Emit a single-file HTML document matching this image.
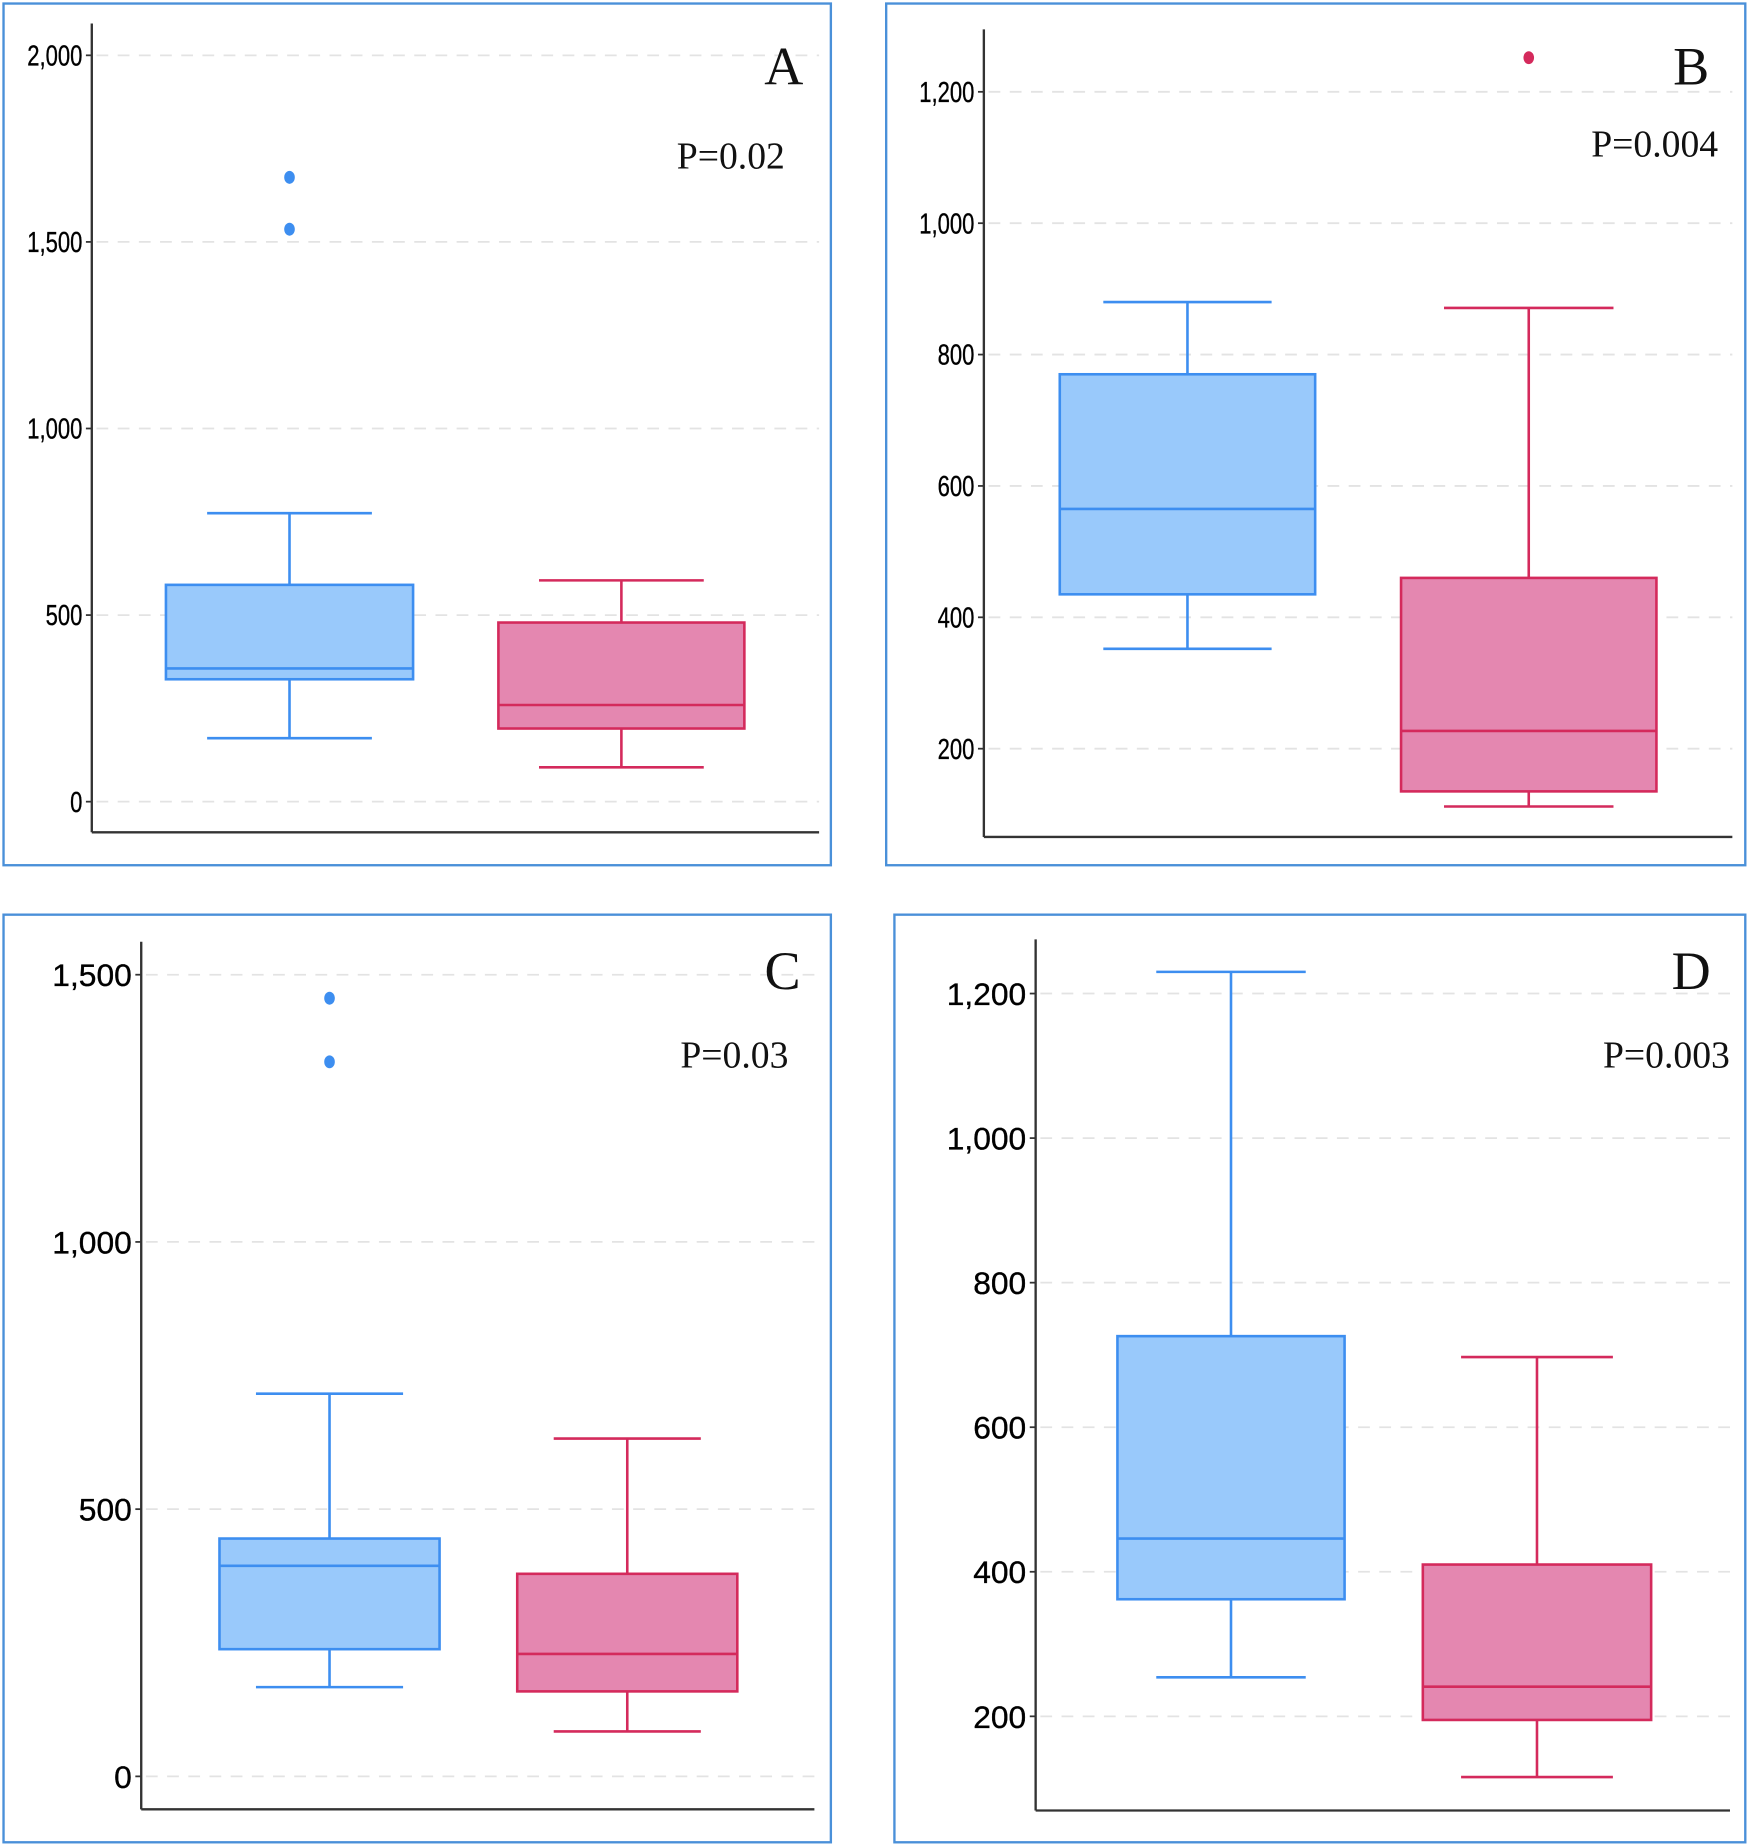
<!DOCTYPE html>
<html><head><meta charset="utf-8">
<style>
html,body{margin:0;padding:0;background:#fff;}
svg{display:block;}
.tick{font-family:"Liberation Sans",sans-serif;fill:#000;stroke:#000;stroke-width:0.3;}
.lbl{font-family:"Liberation Serif",serif;fill:#111;}
</style></head>
<body>
<svg id="fig" width="1750" height="1847" viewBox="0 0 1487 1569" preserveAspectRatio="none" xmlns="http://www.w3.org/2000/svg"></svg>
<script>
// Panel A
const aTicks = [0, 500, 1000, 1500, 2000];
const aTickLabels = ["0", "500", "1,000", "1,500", "2,000"];
const aGroups = ["group-1", "group-2"];
const aMin = [170, 92];
const aQ1 = [328, 196];
const aMedian = [357, 259];
const aQ3 = [581, 480];
const aMax = [773, 593];
const aOutliers = [[1673, 1534], []];
// Panel B
const bTicks = [200, 400, 600, 800, 1000, 1200];
const bTickLabels = ["200", "400", "600", "800", "1,000", "1,200"];
const bMin = [352, 112];
const bQ1 = [435, 135];
const bMedian = [565, 227];
const bQ3 = [770, 460];
const bMax = [880, 871];
const bOutliers = [[], [1252]];
// Panel C
const cTicks = [0, 500, 1000, 1500];
const cTickLabels = ["0", "500", "1,000", "1,500"];
const cMin = [167, 84];
const cQ1 = [238, 159];
const cMedian = [394, 229];
const cQ3 = [445, 379];
const cMax = [716, 632];
const cOutliers = [[1456, 1337], []];
// Panel D
const dTicks = [200, 400, 600, 800, 1000, 1200];
const dTickLabels = ["200", "400", "600", "800", "1,000", "1,200"];
const dMin = [254, 116];
const dQ1 = [362, 195];
const dMedian = [446, 241];
const dQ3 = [726, 410];
const dMax = [1230, 697];
const dOutliers = [[], []];

const NS = "http://www.w3.org/2000/svg";
const svg = document.getElementById("fig");
function mk(tag, attrs, parent){
  const e = document.createElementNS(NS, tag);
  for (const k in attrs) e.setAttribute(k, attrs[k]);
  (parent||svg).appendChild(e);
  return e;
}
const FILL = ["#99c9fb", "#e487b0"];
const STROKE = ["#3d8ef0", "#d42a5c"];

const panels = [
  {id:"a", letter:"A", p:"P=0.02", border:[3,3,703,732], ax:78, axTop:20, axBot:707, axRight:696,
   y0v:0, y0:681, y1v:2000, y1:47, cx:[246,528], bw:[210,209], cap:[140,140], fs:24, sx:0.78,
   letterX:666, letterY:72, pX:621, pY:143, pFs:32,
   ticks:aTicks, tl:aTickLabels, mn:aMin, q1:aQ1, md:aMedian, q3:aQ3, mx:aMax, out:aOutliers},
  {id:"b", letter:"B", p:"P=0.004", border:[753,3,730,732], ax:836, axTop:25, axBot:711, axRight:1472,
   y0v:200, y0:636, y1v:1200, y1:78, cx:[1009,1299], bw:[217,217], cap:[143,144], fs:24, sx:0.78,
   letterX:1437, letterY:72, pX:1406, pY:133, pFs:32,
   ticks:bTicks, tl:bTickLabels, mn:bMin, q1:bQ1, md:bMedian, q3:bQ3, mx:bMax, out:bOutliers},
  {id:"c", letter:"C", p:"P=0.03", border:[3,777,703,788], ax:120, axTop:800, axBot:1537, axRight:692,
   y0v:0, y0:1509, y1v:1500, y1:828, cx:[280,533], bw:[187,187], cap:[125,125], fs:27, sx:1,
   letterX:665, letterY:840, pX:624, pY:907, pFs:32,
   ticks:cTicks, tl:cTickLabels, mn:cMin, q1:cQ1, md:cMedian, q3:cQ3, mx:cMax, out:cOutliers},
  {id:"d", letter:"D", p:"P=0.003", border:[760,777,723,788], ax:880, axTop:798, axBot:1538, axRight:1470,
   y0v:200, y0:1458, y1v:1200, y1:844, cx:[1046,1306], bw:[193,194], cap:[127,129], fs:27, sx:1,
   letterX:1437, letterY:840, pX:1416, pY:907, pFs:32,
   ticks:dTicks, tl:dTickLabels, mn:dMin, q1:dQ1, md:dMedian, q3:dQ3, mx:dMax, out:dOutliers}
];

panels.forEach(P => {
  const g = mk("g", {});
  
  
  const y = v => P.y0 + (v - P.y0v) * (P.y1 - P.y0) / (P.y1v - P.y0v);
  const b = P.border;
  const br = mk("rect", {x:b[0], y:b[1], width:b[2], height:b[3], fill:"#fff", stroke:"#4a90d9", "stroke-width":2}, g);
  
  
  P.ticks.forEach((t, i) => {
    const yy = y(t);
    const gl = mk("line", {x1:P.ax+4, x2:P.axRight, y1:yy, y2:yy, stroke:"#e3e3e3", "stroke-width":1.5, "stroke-dasharray":"10,8"}, g);
    
    
    const tk = mk("line", {x1:P.ax-5, x2:P.ax, y1:yy, y2:yy, stroke:"#333", "stroke-width":1.5}, g);
    
    
    const tx = mk("text", {x:(P.ax-8)/P.sx, y:yy + P.fs*0.36, "text-anchor":"end", "font-size":P.fs, class:"tick", transform:"scale("+P.sx+",1)"}, g);
    tx.textContent = P.tl[i];
    
    
  });
  const ya = mk("line", {x1:P.ax, x2:P.ax, y1:P.axTop, y2:P.axBot, stroke:"#333", "stroke-width":2}, g);
  
  
  const xa = mk("line", {x1:P.ax, x2:P.axRight, y1:P.axBot, y2:P.axBot, stroke:"#333", "stroke-width":2}, g);
  
  
  [0,1].forEach(k => {
    const c = P.cx[k], w = P.bw[k], cw = P.cap[k];
    const bg = mk("g", {stroke:STROKE[k], "stroke-width":2.2}, g);
    
    
    mk("line", {x1:c, x2:c, y1:y(P.mx[k]), y2:y(P.q3[k])}, bg);
    mk("line", {x1:c, x2:c, y1:y(P.q1[k]), y2:y(P.mn[k])}, bg);
    const capT = mk("line", {x1:c-cw/2, x2:c+cw/2, y1:y(P.mx[k]), y2:y(P.mx[k])}, bg);
    
    
    const capB = mk("line", {x1:c-cw/2, x2:c+cw/2, y1:y(P.mn[k]), y2:y(P.mn[k])}, bg);
    
    
    const bx = mk("rect", {x:c-w/2, y:y(P.q3[k]), width:w, height:y(P.q1[k])-y(P.q3[k]), fill:FILL[k]}, bg);
    
    
    const md = mk("line", {x1:c-w/2, x2:c+w/2, y1:y(P.md[k]), y2:y(P.md[k])}, bg);
    
    
    P.out[k].forEach(v => {
      const o = mk("ellipse", {cx:c, cy:y(v), rx:4.5, ry:5.5, fill:STROKE[k], stroke:"none"}, g);
      
      
    });
  });
  const L = mk("text", {x:P.letterX, y:P.letterY, "text-anchor":"middle", "font-size":46, class:"lbl"}, g);
  L.textContent = P.letter;
  
  
  const pv = mk("text", {x:P.pX, y:P.pY, "text-anchor":"middle", "font-size":P.pFs, class:"lbl"}, g);
  pv.textContent = P.p;
  
  
});
</script>
</body></html>
